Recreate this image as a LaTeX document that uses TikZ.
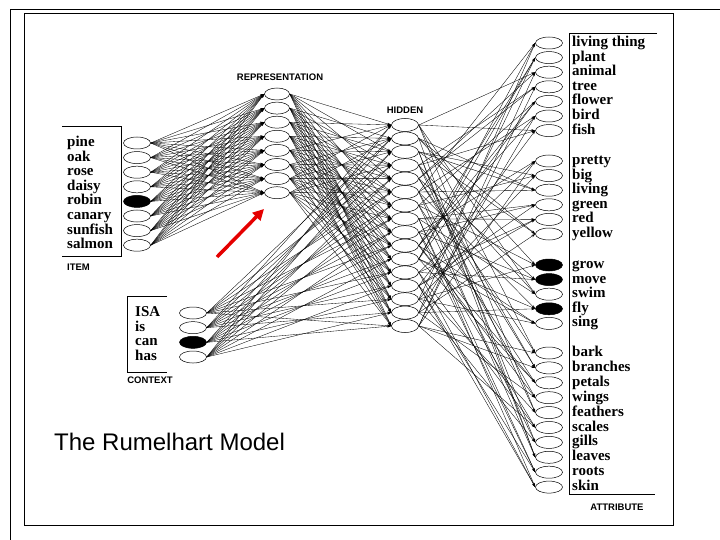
\documentclass[tikz,border=0pt]{standalone}
\usepackage{fontspec}
\setmainfont{Liberation Serif}
\setsansfont{Liberation Sans}
\usetikzlibrary{shapes.geometric,arrows.meta}

\begin{document}
\begin{tikzpicture}[x=1pt,y=-1pt,
    unit/.style={draw,ellipse,inner sep=0,minimum width=27pt,minimum height=12pt,line width=0.5pt},
    word/.style={anchor=west,inner sep=0,text height=9.5pt,text depth=2.5pt,font=\fontsize{15}{16}\selectfont\bfseries},
    layer/.style={inner sep=0,font=\sffamily\bfseries\fontsize{9.5}{10}\selectfont},
    link/.style={-{Stealth[length=4pt,width=2.5pt]},line width=0.35pt},
    pointer/.style={-{Triangle[length=11pt,width=11pt]},line width=3.5pt,red!90!black}]
    %\draw[help lines,step=50] (0,0) grid (720,540);
    \useasboundingbox (0,0) rectangle (720,540);
    \draw[] (10,540) -- (10,9.5) -- (720,9.5);
    \draw[] (24,13) rectangle (673,525);
    % item layer
    \draw[] (62,126) -- (121,126) -- (121,256) -- (62,256);
    \foreach \w/\c [count=\i] in {pine/white,oak/white,rose/white,daisy/white,robin/black,canary/white,sunfish/white,salmon/white}{
        \node[unit,fill=\c] (i\i) at (137,143+14.6*\i-14.6) {};
        \node[word] (iw\i) at (67,143+14.6*\i-14.6) {\w};
    }
    % context layer
    \draw[] (167,296) -- (127.5,296) -- (127.5,372) -- (167,372);
    \foreach \w/\c [count=\i] in {ISA/white,is/white,can/black,has/white}{
        \node[unit,fill=\c] (c\i) at (193,313+14.67*\i-14.67) {};
        \node[word] (cw\i) at (135,313+14.67*\i-14.67) {\w};
    }
    % representation and hidden
    \foreach \i in {1,...,8}
        \node[unit,minimum width=25pt] (r\i) at (277,94+14.1*\i-14.1) {};
    \foreach \i in {1,...,16}
        \node[unit,minimum height=13pt] (h\i) at (405,125+13.4*\i-13.4) {};
    % attribute layer
    \draw[] (657,33) -- (569,33) -- (569,494) -- (655,494);
    \foreach \w/\c [count=\i] in {living thing/white,plant/white,animal/white,tree/white,flower/white,bird/white,fish/white}{
        \node[unit,fill=\c] (at\i) at (549,43+14.6*\i-14.6) {};
        \node[word] (aw\i) at (572,43+14.6*\i-14.6) {\w};
    }
    \foreach \w/\c [count=\i from 8] in {pretty/white,big/white,living/white,green/white,red/white,yellow/white}{
        \node[unit,fill=\c] (at\i) at (549,161+14.6*\i-116.8) {};
        \node[word] (aw\i) at (572,161+14.6*\i-116.8) {\w};
    }
    \foreach \w/\c [count=\i from 14] in {grow/black,move/black,swim/white,fly/black,sing/white}{
        \node[unit,fill=\c] (at\i) at (549,265+14.6*\i-204.4) {};
        \node[word] (aw\i) at (572,265+14.6*\i-204.4) {\w};
    }
    \foreach \w/\c [count=\i from 19] in {bark/white,branches/white,petals/white,wings/white,feathers/white,scales/white,gills/white,leaves/white,roots/white,skin/white}{
        \node[unit,fill=\c] (at\i) at (549,353+14.9*\i-283.1) {};
        \node[word] (aw\i) at (572,353+14.9*\i-283.1) {\w};
    }
    % weights
    \foreach \a in {1,...,8}
        \foreach \b in {1,...,8}
            \draw[link] (i\a.east) -- (r\b.west);
    \foreach \a in {1,...,8}
        \foreach \b in {1,...,16}{
            \pgfmathtruncatemacro\k{mod(\a+\b,2)}
            \ifnum\k=0 \draw[link] (r\a.east) -- (h\b.west);\fi
        }
    \foreach \a in {1,...,4}
        \foreach \b in {1,...,16}{
            \pgfmathtruncatemacro\k{mod(\a+\b,2)}
            \ifnum\k=1 \draw[link] (c\a.east) -- (h\b.west);\fi
        }
    \foreach \b in {1,...,28}{
        \pgfmathtruncatemacro\p{mod(5*\b,16)+1}
        \pgfmathtruncatemacro\q{mod(11*\b+3,16)+1}
        \pgfmathtruncatemacro\s{mod(3*\b+7,16)+1}
        \draw[link] (h\p.east) -- (at\b.west);
        \draw[link] (h\q.east) -- (at\b.west);
        \draw[link] (h\s.east) -- (at\b.west);
    }
    % labels
    \node[layer] (replab) at (280,77) {REPRESENTATION};
    \node[layer] (hidlab) at (405,110) {HIDDEN};
    \node[layer,anchor=west] (itemlab) at (67,267) {ITEM};
    \node[layer] (ctxlab) at (150,380) {CONTEXT};
    \node[layer] (attlab) at (617,507) {ATTRIBUTE};
    \node[anchor=base west,inner sep=0,font=\sffamily\fontsize{24}{24}\selectfont] (title) at (54,450) {The Rumelhart Model};
    \coordinate (tail) at (217,257);
    \coordinate (tip) at (264,209);
    \draw[pointer] (tail) -- (tip);
\end{tikzpicture}
\end{document}
